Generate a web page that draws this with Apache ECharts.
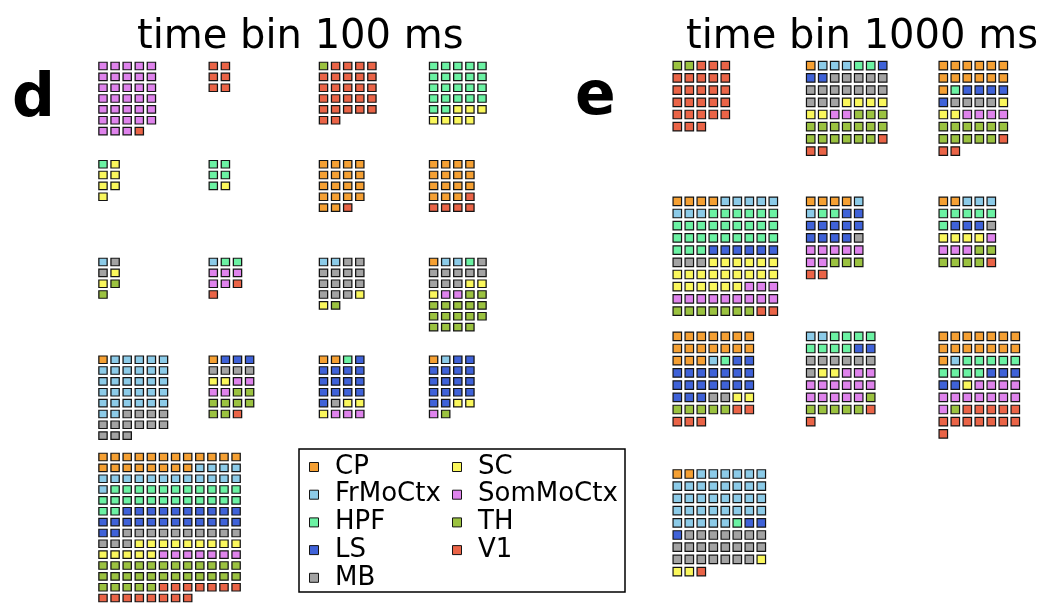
<!DOCTYPE html>
<html><head><meta charset="utf-8">
<script src="https://cdn.jsdelivr.net/npm/echarts/dist/echarts.min.js"></script>
<style>html,body{margin:0;padding:0;background:#fff}#c{width:1056px;height:616px}</style>
</head><body><div id="c"></div>
<script>
// ---------- data ----------
const categories = ['CP','FrMoCtx','HPF','LS','MB','SC','SomMoCtx','TH','V1'];
const colors = ['#f5a033','#8ccbe8','#6bf2a3','#3f62d8','#a3a3a3','#faf75c','#df83ec','#9bc240','#ea6447'];
const titles = ['time bin 100 ms','time bin 1000 ms'];
const panelLabels = ['d','e'];

// counts per waffle, in category order [CP, FrMoCtx, HPF, LS, MB, SC, SomMoCtx, TH, V1]
// panel d (time bin 100 ms)
const d_r1c1 = [0,0,0,0,0,0,33,0,1];
const d_r1c2 = [0,0,0,0,0,0,0,0,6];
const d_r1c3 = [0,0,0,0,0,0,0,1,26];
const d_r1c4 = [0,0,22,0,0,7,0,0,0];
const d_r2c1 = [0,0,1,0,0,6,0,0,0];
const d_r2c2 = [0,0,5,0,0,1,0,0,0];
const d_r2c3 = [18,0,0,0,0,0,0,0,1];
const d_r2c4 = [15,0,0,0,0,0,0,0,5];
const d_r3c1 = [0,1,0,0,2,2,0,2,0];
const d_r3c2 = [0,1,2,0,0,0,5,0,2];
const d_r3c3 = [0,2,0,0,13,2,0,1,0];
const d_r3c4 = [1,2,1,0,9,3,2,16,0];
const d_r4c1 = [1,31,0,0,13,0,0,0,0];
const d_r4c2 = [1,0,0,3,4,2,4,8,1];
const d_r4c3 = [2,0,1,14,1,3,3,0,0];
const d_r4c4 = [1,1,0,16,0,2,1,1,0];
const d_r5c1 = [20,17,25,24,13,14,7,29,15];
// panel e (time bin 1000 ms)
const e_r1c1 = [0,0,0,0,0,0,0,2,26];
const e_r1c2 = [1,3,2,3,15,6,2,16,3];
const e_r1c3 = [13,0,1,5,4,3,4,11,3];
const e_r2c1 = [4,8,27,6,3,21,12,7,2];
const e_r2c2 = [4,2,2,11,1,0,7,3,2];
const e_r2c3 = [2,3,6,3,1,4,4,6,1];
const e_r3c1 = [17,1,1,19,2,2,0,5,5];
const e_r3c2 = [0,2,8,2,7,2,14,6,2];
const e_r3c3 = [15,1,9,5,0,1,12,1,13];
const e_r4c1 = [2,35,1,3,22,3,0,0,1];

// ---------- layout (waffle width in cells, grid slot) ----------
const waffles = [
  ['d',0,0,5,d_r1c1],['d',0,1,2,d_r1c2],['d',0,2,5,d_r1c3],['d',0,3,5,d_r1c4],
  ['d',1,0,2,d_r2c1],['d',1,1,2,d_r2c2],['d',1,2,4,d_r2c3],['d',1,3,4,d_r2c4],
  ['d',2,0,2,d_r3c1],['d',2,1,3,d_r3c2],['d',2,2,4,d_r3c3],['d',2,3,5,d_r3c4],
  ['d',3,0,6,d_r4c1],['d',3,1,4,d_r4c2],['d',3,2,4,d_r4c3],['d',3,3,4,d_r4c4],
  ['d',4,0,12,d_r5c1],
  ['e',0,0,5,e_r1c1],['e',0,1,7,e_r1c2],['e',0,2,6,e_r1c3],
  ['e',1,0,9,e_r2c1],['e',1,1,5,e_r2c2],['e',1,2,5,e_r2c3],
  ['e',2,0,7,e_r3c1],['e',2,1,6,e_r3c2],['e',2,2,7,e_r3c3],
  ['e',3,0,8,e_r4c1]
];
const slotX = {d:[99,209.3,319.5,429.6], e:[673.3,806.7,939.3]};
const slotY = {d:[62.3,160.5,258.3,356,453.3], e:[61.7,197.3,332.3,470]};
const cell = {d:{px:12.1, py:10.85, sw:8.3, sh:7.5}, e:{px:12, py:12.2, sw:8.5, sh:8.5}};
const FONT = 'DejaVu Sans';

// ---------- build ----------
const grid = [], xAxis = [], yAxis = [], series = [];
waffles.forEach((wf, i) => {
  const [panel, r, c, ncols, counts] = wf;
  const g = cell[panel];
  const total = counts.reduce((a, b) => a + b, 0);
  const nrows = Math.ceil(total / ncols);
  const x0 = slotX[panel][c], y0 = slotY[panel][r];
  grid.push({left: x0 + 4 - g.px/2, top: y0 + (panel === 'd' ? 3.7 : 4) - g.py/2,
             width: ncols*g.px, height: nrows*g.py});
  xAxis.push({type:'value', gridIndex:i, min:-0.5, max:ncols-0.5, show:false});
  yAxis.push({type:'value', gridIndex:i, min:-0.5, max:nrows-0.5, inverse:true, show:false});
  let idx = 0;
  counts.forEach((n, k) => {
    if (!n) return;
    const pts = [];
    for (let j = 0; j < n; j++, idx++) pts.push([idx % ncols, Math.floor(idx / ncols)]);
    series.push({
      type:'scatter', name:categories[k], xAxisIndex:i, yAxisIndex:i,
      symbol:'rect', symbolSize:[g.sw, g.sh], data:pts, silent:true, clip:false,
      itemStyle:{color:colors[k], borderColor:'#141414', borderWidth:1.2, opacity:1},
      emphasis:{disabled:true}
    });
  });
});

const legendBase = {
  orient:'vertical', top:454, padding:0,
  itemWidth:16, itemHeight:9, itemGap:1.7, selectedMode:false,
  icon:'path://M0 0H10V10H0Z',
  itemStyle:{borderColor:'#141414', borderWidth:1},
  textStyle:{fontFamily:FONT, fontSize:26, color:'#000', padding:[0,0,0,8]}
};

const chart = echarts.init(document.getElementById('c'), null, {renderer:'canvas'});
chart.setOption({
  animation:false,
  backgroundColor:'#fff',
  grid, xAxis, yAxis, series,
  legend:[
    Object.assign({}, legendBase, {data:categories.slice(0,5), left:309}),
    Object.assign({}, legendBase, {data:categories.slice(5), left:452})
  ],
  graphic:[
    {type:'rect', shape:{x:299, y:449, width:326, height:143},
     style:{fill:'none', stroke:'#000', lineWidth:1.5}, silent:true},
    {type:'text', left:137, top:18, style:{text:titles[0], font:'40px "DejaVu Sans"', fill:'#000'}, silent:true},
    {type:'text', left:686, top:18, style:{text:titles[1], font:'40px "DejaVu Sans"', fill:'#000'}, silent:true},
    {type:'text', left:12, top:70, style:{text:panelLabels[0], font:'bold 60px "DejaVu Sans"', fill:'#000'}, silent:true},
    {type:'text', left:575, top:68, style:{text:panelLabels[1], font:'bold 60px "DejaVu Sans"', fill:'#000'}, silent:true}
  ]
});
</script></body></html>
